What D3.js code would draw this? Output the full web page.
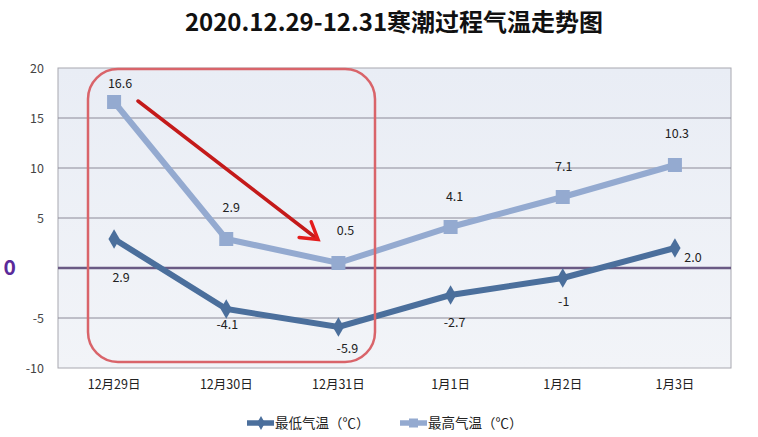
<!DOCTYPE html>
<html><head><meta charset="utf-8">
<script src="https://cdn.jsdelivr.net/npm/d3@7/dist/d3.min.js"></script>
<style>body{margin:0;background:#fff;} svg{display:block;}</style>
</head><body>
<svg id="c" width="758" height="437"></svg>
<script>
const categories = ["12月29日","12月30日","12月31日","1月1日","1月2日","1月3日"];
const lowTemps = [2.9, -4.1, -5.9, -2.7, -1, 2.0];
const highTemps = [16.6, 2.9, 0.5, 4.1, 7.1, 10.3];
const lowLabels = ["2.9","-4.1","-5.9","-2.7","-1","2.0"];
const highLabels = ["16.6","2.9","0.5","4.1","7.1","10.3"];
const yTicks = [-10,-5,0,5,10,15,20];
const seriesNames = ["最低气温（℃）","最高气温（℃）"];
const title = "2020.12.29-12.31寒潮过程气温走势图";

const svg = d3.select("#c");
const L = 58, R = 731, T = 68, B = 368;
const x = d3.scaleBand().domain(categories).range([L, R]);
const y = d3.scaleLinear().domain([-10, 20]).range([B, T]);
const cx = d => x(d) + x.bandwidth()/2;
const font = "'Noto Sans CJK SC', 'Noto Sans', sans-serif";
const lowColor = "#4b6f9c", highColor = "#94aad0";

// gradient background
const defs = svg.append("defs");
const g = defs.append("linearGradient").attr("id","bg").attr("x1",0).attr("y1",0).attr("x2",0).attr("y2",1);
g.append("stop").attr("offset","0%").attr("stop-color","#e9edf5");
g.append("stop").attr("offset","100%").attr("stop-color","#f2f4f8");
svg.append("rect").attr("x",L).attr("y",T).attr("width",R-L).attr("height",B-T).attr("fill","url(#bg)").attr("stroke","#a8a8b0");

// title
svg.append("text").attr("x",394).attr("y",31).attr("text-anchor","middle")
  .attr("font-family",font).attr("font-weight","bold").attr("font-size",24).attr("fill","#111").text(title);

// gridlines
svg.append("g").selectAll("line").data(yTicks.filter(v=>v!==0 && v!==-10 && v!==20)).join("line")
  .attr("x1",L).attr("x2",R).attr("y1",d=>y(d)).attr("y2",d=>y(d)).attr("stroke","#8c8a98").attr("stroke-width",1);
svg.append("line").attr("x1",L).attr("x2",R).attr("y1",y(0)).attr("y2",y(0)).attr("stroke","#6a5a84").attr("stroke-width",2.5);

// y axis labels
const yAxis = d3.axisLeft(y).tickValues(yTicks).tickSize(0).tickPadding(14).tickFormat(d=>d);
const ya = svg.append("g").attr("transform",`translate(${L},0)`).call(yAxis);
ya.select(".domain").remove();
ya.selectAll("text").attr("font-family",font).attr("font-size",12.5).attr("fill","#444");
ya.selectAll(".tick").filter(d=>d===0).select("text")
  .attr("font-size",21).attr("font-weight","bold").attr("fill","#5a2a9a").attr("dx",-28);

// x axis labels
const xAxis = d3.axisBottom(x).tickSize(0).tickPadding(12);
const xa = svg.append("g").attr("transform",`translate(0,${B})`).call(xAxis);
xa.select(".domain").remove();
xa.selectAll("text").attr("font-family",font).attr("font-size",12.5).attr("fill","#222");

// lines
const line = d3.line().x((d,i)=>cx(categories[i])).y(d=>y(d));
svg.append("path").datum(highTemps).attr("d",line).attr("fill","none").attr("stroke",highColor).attr("stroke-width",6);
svg.append("path").datum(lowTemps).attr("d",line).attr("fill","none").attr("stroke",lowColor).attr("stroke-width",6);

// markers
svg.append("g").selectAll("rect").data(highTemps).join("rect")
  .attr("x",(d,i)=>cx(categories[i])-7).attr("y",d=>y(d)-7).attr("width",14).attr("height",14).attr("fill",highColor);
svg.append("g").selectAll("path").data(lowTemps).join("path")
  .attr("d",d3.symbol().type(d3.symbolDiamond).size(110))
  .attr("transform",(d,i)=>`translate(${cx(categories[i])},${y(d)})`).attr("fill",lowColor);

// labels
const hiOff = [[6,-14],[5,-27],[7,-28],[4,-26],[1,-26],[2,-27]];
svg.append("g").selectAll("text").data(highTemps).join("text")
  .attr("x",(d,i)=>cx(categories[i])+hiOff[i][0]).attr("y",(d,i)=>y(d)+hiOff[i][1])
  .attr("text-anchor","middle").attr("font-family",font).attr("font-size",12.5).attr("fill","#222")
  .text((d,i)=>highLabels[i]);
const loOff = [[7,43],[1,20],[9,26],[4,32],[1,28],[18,14]];
svg.append("g").selectAll("text").data(lowTemps).join("text")
  .attr("x",(d,i)=>cx(categories[i])+loOff[i][0]).attr("y",(d,i)=>y(d)+loOff[i][1])
  .attr("text-anchor","middle").attr("font-family",font).attr("font-size",12.5).attr("fill","#222")
  .text((d,i)=>lowLabels[i]);

// red rounded box
svg.append("rect").attr("x",88).attr("y",69).attr("width",287).attr("height",293).attr("rx",30).attr("ry",30)
  .attr("fill","none").attr("stroke","#d9646a").attr("stroke-width",2.5);

// red arrow
svg.append("line").attr("x1",138).attr("y1",101).attr("x2",316).attr("y2",238)
  .attr("stroke","#c41a1a").attr("stroke-width",3.5).attr("stroke-linecap","round");
const ang = Math.atan2(238-101, 316-138);
const ahL = 19, spread = 0.55;
const tip = [318, 239.5];
const p1 = [tip[0]-ahL*Math.cos(ang-spread), tip[1]-ahL*Math.sin(ang-spread)];
const p2 = [tip[0]-ahL*Math.cos(ang+spread), tip[1]-ahL*Math.sin(ang+spread)];
svg.append("path").attr("d",`M${p1[0]},${p1[1]} L${tip[0]},${tip[1]} L${p2[0]},${p2[1]}`)
  .attr("fill","none").attr("stroke","#e41c1c").attr("stroke-width",3.5).attr("stroke-linecap","round").attr("stroke-linejoin","miter");

// legend
const leg = [[247, lowColor, "diamond"],[400, highColor, "square"]];
leg.forEach((l,i)=>{
  const gx = l[0], gy = 423;
  svg.append("line").attr("x1",gx).attr("x2",gx+27).attr("y1",gy).attr("y2",gy).attr("stroke",l[1]).attr("stroke-width",5.5);
  if (l[2]==="diamond") svg.append("path").attr("d",d3.symbol().type(d3.symbolDiamond).size(55)).attr("transform",`translate(${gx+14},${gy})`).attr("fill",l[1]);
  else svg.append("rect").attr("x",gx+9).attr("y",gy-4.5).attr("width",9).attr("height",9).attr("fill",l[1]);
  svg.append("text").attr("x",gx+28).attr("y",gy+5).attr("font-family",font).attr("font-size",13.5).attr("fill","#222").text(seriesNames[i]);
});
</script>
</body></html>
